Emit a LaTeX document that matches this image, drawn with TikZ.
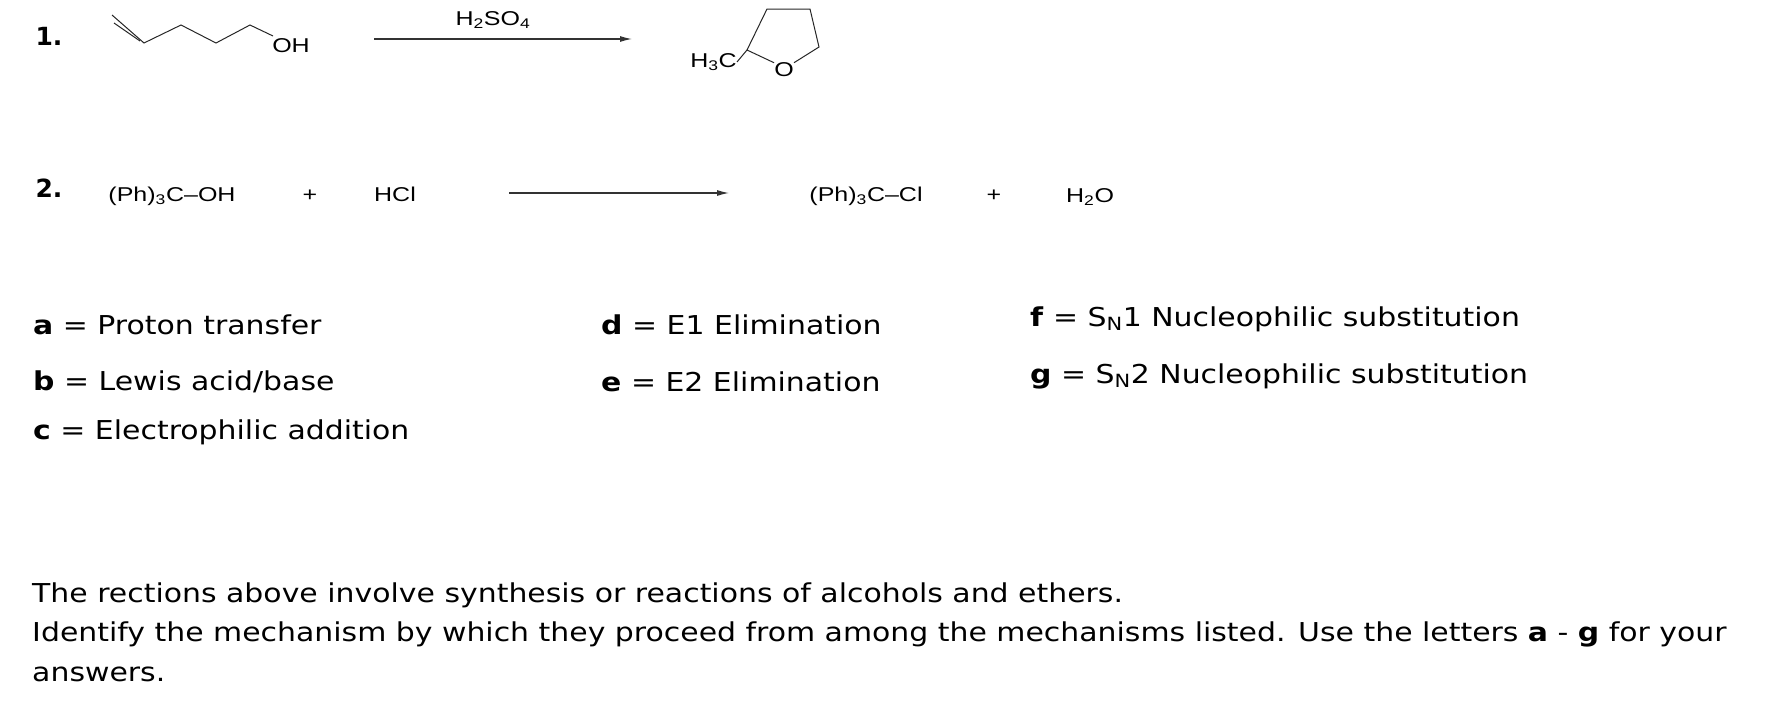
\documentclass[tikz,border=0pt]{standalone}
\usepackage{fontspec}
\usetikzlibrary{arrows.meta,calc}
\setmainfont{DejaVu Sans}
\newfontfamily\chemfont{Liberation Sans}
\begin{document}
\begin{tikzpicture}[x=1pt,y=-1pt,
  body/.style={font=\fontsize{26}{30}\selectfont, anchor=west, inner sep=0pt, xscale=1.15, transform shape},
  num/.style={font=\fontsize{25}{30}\selectfont\bfseries, inner sep=0pt},
  chem/.style={font=\chemfont\fontsize{20}{22}\selectfont, xscale=1.25, transform shape, inner sep=0pt},
  bond/.style={line width=1pt, black!85},
  rxn/.style={line width=1.2pt, black!80, -{Latex[length=12pt,width=6pt]}}]
\useasboundingbox (0,0) rectangle (1776,718);
% reaction 1
\node[num] (n1) at (49,36) {1.};
\coordinate (c1) at (112,15); \coordinate (c2) at (144,43); \coordinate (c3) at (181,25);
\coordinate (c4) at (216,43); \coordinate (c5) at (250,25); \coordinate (c6) at (273,36);
\draw[bond] (c1) -- (c2) -- (c3) -- (c4) -- (c5) -- (c6);
\draw[bond] ($(c1)+(2,8)$) -- ($(c2)+(-4,-2)$);
\node[chem, anchor=west] (oh) at (272,46) {OH};
\coordinate (a1s) at (374,39); \coordinate (a1e) at (632,39);
\draw[rxn] (a1s) -- (a1e);
\node[chem] (h2so4) at (493,20) {H\textsubscript{2}SO\textsubscript{4}};
\node[chem, anchor=east] (h3c) at (737,62) {H\textsubscript{3}C};
\coordinate (r1) at (747,50); \coordinate (r2) at (767,9); \coordinate (r3) at (810,9);
\coordinate (r4) at (819,47);
\node[chem] (ro) at (784,70) {O};
\draw[bond] (h3c.east) -- (r1);
\draw[bond] (ro.north west) -- (r1) -- (r2) -- (r3) -- (r4) -- (ro.north east);
% reaction 2
\node[num] (n2) at (49,188) {2.};
\node[chem] (ph3coh) at (172,196) {(Ph)\textsubscript{3}C\textendash OH};
\node[chem] (p1) at (310,196) {+};
\node[chem] (hcl) at (395,194) {HCl};
\coordinate (a2s) at (509,193); \coordinate (a2e) at (729,193);
\draw[rxn] (a2s) -- (a2e);
\node[chem] (ph3ccl) at (866,196) {(Ph)\textsubscript{3}C\textendash Cl};
\node[chem] (p2) at (994,196) {+};
\node[chem] (h2o) at (1090,197) {H\textsubscript{2}O};
% mechanisms
\node[body] (ma) at (33,325) {\textbf{a} = Proton transfer};
\node[body] (mb) at (33,382) {\textbf{b} = Lewis acid/base};
\node[body] (mc) at (33,432) {\textbf{c} = Electrophilic addition};
\node[body] (md) at (601,325) {\textbf{d} = E1 Elimination};
\node[body] (me) at (601,382) {\textbf{e} = E2 Elimination};
\node[body] (mf) at (1030,319) {\textbf{f} = S\textsubscript{N}1 Nucleophilic substitution};
\node[body] (mg) at (1030,376) {\textbf{g} = S\textsubscript{N}2 Nucleophilic substitution};
% paragraph
\node[body] (p1l) at (32,595) {The rections above involve synthesis or reactions of alcohols and ethers.};
\node[body] (p2l) at (32,634) {Identify the mechanism by which they proceed from among the mechanisms listed. Use the letters \textbf{a} - \textbf{g} for your};
\node[body] (p3l) at (32,674) {answers.};
\end{tikzpicture}
\end{document}
